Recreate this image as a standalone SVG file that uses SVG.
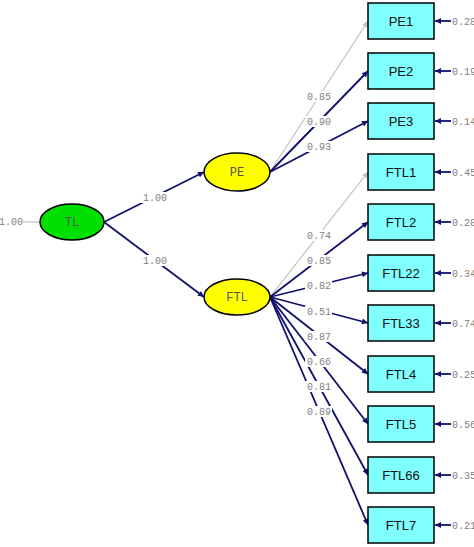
<svg xmlns="http://www.w3.org/2000/svg" width="474" height="547" viewBox="0 0 474 547">
<defs>
<style>
.e{stroke:#000;stroke-width:1.5}
.b{fill:#80ffff;stroke:#000;stroke-width:1.5}
.nt{font-family:"Liberation Sans",Arial,sans-serif;font-size:13px;fill:#111;text-anchor:middle}
.lt{font-family:"Liberation Mono","Courier New",monospace;font-size:12px;fill:#555;text-anchor:middle}
.pl{font-family:"Liberation Mono","Courier New",monospace;font-size:10px;fill:#808080}
.ln{stroke:#10106e;stroke-width:1.8;fill:none}
.lg{stroke:#c0c0c0;stroke-width:1.2;fill:none}
.bg{fill:#fff}
</style>
<marker id="an" viewBox="0 0 10 10" refX="10" refY="5" markerWidth="9" markerHeight="6" markerUnits="userSpaceOnUse" orient="auto"><path d="M0,0L10,5L0,10z" fill="#10106e"/></marker>
<marker id="ag" viewBox="0 0 10 10" refX="10" refY="5" markerWidth="9" markerHeight="6" markerUnits="userSpaceOnUse" orient="auto"><path d="M0,0L10,5L0,10z" fill="#c0c0c0"/></marker>
</defs>
<g id="connectors">
<line class="lg" x1="23" y1="222" x2="40" y2="222"/>
<line class="ln" x1="104" y1="222" x2="204" y2="172" marker-end="url(#an)"/>
<line class="ln" x1="104" y1="222" x2="204" y2="297" marker-end="url(#an)"/>
<line class="lg" x1="270" y1="172" x2="368" y2="21" marker-end="url(#ag)"/>
<line class="ln" x1="270" y1="172" x2="368" y2="71" marker-end="url(#an)"/>
<line class="ln" x1="270" y1="172" x2="368" y2="121" marker-end="url(#an)"/>
<line class="lg" x1="270" y1="297" x2="368" y2="172" marker-end="url(#ag)"/>
<line class="ln" x1="270" y1="297" x2="368" y2="222" marker-end="url(#an)"/>
<line class="ln" x1="270" y1="297" x2="368" y2="273" marker-end="url(#an)"/>
<line class="ln" x1="270" y1="297" x2="368" y2="323" marker-end="url(#an)"/>
<line class="ln" x1="270" y1="297" x2="368" y2="374" marker-end="url(#an)"/>
<line class="ln" x1="270" y1="297" x2="368" y2="424" marker-end="url(#an)"/>
<line class="ln" x1="270" y1="297" x2="368" y2="475" marker-end="url(#an)"/>
<line class="ln" x1="270" y1="297" x2="368" y2="525" marker-end="url(#an)"/>
<g>
<line class="ln" x1="451" y1="21" x2="435" y2="21" marker-end="url(#an)"/>
<line class="ln" x1="451" y1="71" x2="435" y2="71" marker-end="url(#an)"/>
<line class="ln" x1="451" y1="121" x2="435" y2="121" marker-end="url(#an)"/>
<line class="ln" x1="451" y1="172" x2="435" y2="172" marker-end="url(#an)"/>
<line class="ln" x1="451" y1="222" x2="435" y2="222" marker-end="url(#an)"/>
<line class="ln" x1="451" y1="273" x2="435" y2="273" marker-end="url(#an)"/>
<line class="ln" x1="451" y1="323" x2="435" y2="323" marker-end="url(#an)"/>
<line class="ln" x1="451" y1="374" x2="435" y2="374" marker-end="url(#an)"/>
<line class="ln" x1="451" y1="424" x2="435" y2="424" marker-end="url(#an)"/>
<line class="ln" x1="451" y1="475" x2="435" y2="475" marker-end="url(#an)"/>
<line class="ln" x1="451" y1="525" x2="435" y2="525" marker-end="url(#an)"/>
</g>
<g id="path-labels">
<rect class="bg" x="141" y="192" width="28" height="11"/><text class="pl" x="155" y="201" text-anchor="middle">1.00</text>
<rect class="bg" x="141" y="255" width="28" height="11"/><text class="pl" x="155" y="264" text-anchor="middle">1.00</text>
<rect class="bg" x="305" y="91" width="27" height="11"/><text class="pl" x="319" y="100" text-anchor="middle">0.85</text>
<rect class="bg" x="305" y="116" width="27" height="11"/><text class="pl" x="319" y="125" text-anchor="middle">0.90</text>
<rect class="bg" x="305" y="141" width="27" height="11"/><text class="pl" x="319" y="150" text-anchor="middle">0.93</text>
<rect class="bg" x="305" y="230" width="27" height="11"/><text class="pl" x="319" y="239" text-anchor="middle">0.74</text>
<rect class="bg" x="305" y="255" width="27" height="11"/><text class="pl" x="319" y="264" text-anchor="middle">0.85</text>
<rect class="bg" x="305" y="280" width="27" height="11"/><text class="pl" x="319" y="289" text-anchor="middle">0.82</text>
<rect class="bg" x="305" y="306" width="27" height="11"/><text class="pl" x="319" y="315" text-anchor="middle">0.51</text>
<rect class="bg" x="305" y="331" width="27" height="11"/><text class="pl" x="319" y="340" text-anchor="middle">0.87</text>
<rect class="bg" x="305" y="356" width="27" height="11"/><text class="pl" x="319" y="365" text-anchor="middle">0.66</text>
<rect class="bg" x="305" y="381" width="27" height="11"/><text class="pl" x="319" y="390" text-anchor="middle">0.81</text>
<rect class="bg" x="305" y="406" width="27" height="11"/><text class="pl" x="319" y="415" text-anchor="middle">0.89</text>
<text class="pl" x="-1" y="225">1.00</text>
<text class="pl" x="452" y="25">0.28</text>
<text class="pl" x="452" y="75">0.19</text>
<text class="pl" x="452" y="125">0.14</text>
<text class="pl" x="452" y="176">0.45</text>
<text class="pl" x="452" y="226">0.28</text>
<text class="pl" x="452" y="277">0.34</text>
<text class="pl" x="452" y="327">0.74</text>
<text class="pl" x="452" y="378">0.25</text>
<text class="pl" x="452" y="428">0.56</text>
<text class="pl" x="452" y="479">0.35</text>
<text class="pl" x="452" y="529">0.21</text>
</g>
</g>
<g id="TL"><ellipse class="e" cx="72" cy="222" rx="32" ry="18" fill="#00e000"/><text class="lt" x="72" y="226">TL</text></g>
<g id="PE"><ellipse class="e" cx="237" cy="172" rx="33" ry="19" fill="#ffff00"/><text class="lt" x="237" y="176">PE</text></g>
<g id="FTL"><ellipse class="e" cx="237" cy="297" rx="33" ry="18" fill="#ffff00"/><text class="lt" x="237" y="301">FTL</text></g>
<g id="PE1"><rect class="b" x="368" y="3" width="66" height="36"/><text class="nt" x="401" y="26">PE1</text></g>
<g id="PE2"><rect class="b" x="368" y="53" width="66" height="36"/><text class="nt" x="401" y="76">PE2</text></g>
<g id="PE3"><rect class="b" x="368" y="103" width="66" height="36"/><text class="nt" x="401" y="126">PE3</text></g>
<g id="FTL1"><rect class="b" x="368" y="154" width="66" height="36"/><text class="nt" x="401" y="177">FTL1</text></g>
<g id="FTL2"><rect class="b" x="368" y="204" width="66" height="36"/><text class="nt" x="401" y="227">FTL2</text></g>
<g id="FTL22"><rect class="b" x="368" y="255" width="66" height="36"/><text class="nt" x="401" y="278">FTL22</text></g>
<g id="FTL33"><rect class="b" x="368" y="305" width="66" height="36"/><text class="nt" x="401" y="328">FTL33</text></g>
<g id="FTL4"><rect class="b" x="368" y="356" width="66" height="36"/><text class="nt" x="401" y="379">FTL4</text></g>
<g id="FTL5"><rect class="b" x="368" y="406" width="66" height="36"/><text class="nt" x="401" y="429">FTL5</text></g>
<g id="FTL66"><rect class="b" x="368" y="457" width="66" height="36"/><text class="nt" x="401" y="480">FTL66</text></g>
<g id="FTL7"><rect class="b" x="368" y="507" width="66" height="36"/><text class="nt" x="401" y="530">FTL7</text></g>
</svg>
